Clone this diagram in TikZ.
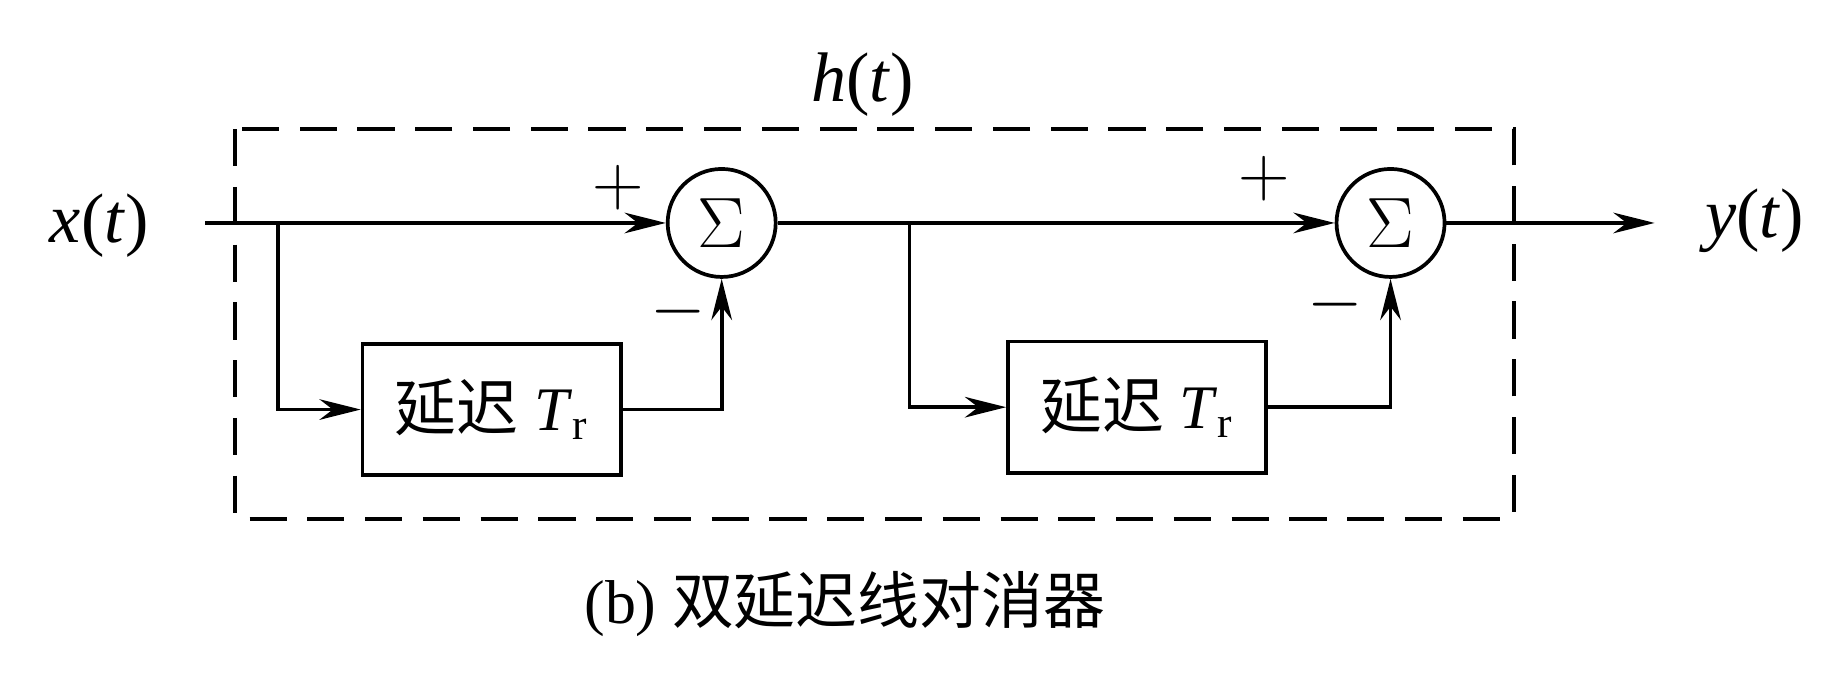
\documentclass[tikz,border=0pt]{standalone}
\usepackage{fontspec}
\setmainfont{Liberation Serif}
\newfontfamily\cjk{Noto Sans CJK SC}
\usetikzlibrary{arrows.meta}
\begin{document}
\begin{tikzpicture}[x=0.01cm,y=-0.01cm,
  line width=0.9pt,
  sig/.style={draw,circle,minimum size=0.92cm,inner sep=0pt,font=\fontsize{17}{17}\selectfont},
  dbox/.style={draw,minimum width=2.2cm,minimum height=1.12cm,font=\fontsize{15}{16}\selectfont},
  lbl/.style={font=\fontsize{17}{18}\selectfont},
  arr/.style={-{Stealth[length=10pt,width=5pt]}}]
\useasboundingbox (0,0) rectangle (1568,576);
\draw[dash pattern=on 9pt off 5pt,line width=1pt] (200,110) rectangle (1290,442);
\node[lbl] (h) at (735,72) {\textit{h}(\textit{t})};
\node[lbl,anchor=east] (x) at (140,192) {\textit{x}(\textit{t})};
\coordinate (xs) at (175,190);
\node[sig] (s1) at (615,190) {$\Sigma$};
\node[sig] (s2) at (1185,190) {$\Sigma$};
\node[dbox] (d1) at (419,349) {{\cjk 延迟} \textit{T}\textsubscript{r}};
\node[dbox] (d2) at (969,347) {{\cjk 延迟} \textit{T}\textsubscript{r}};
\node[lbl,anchor=west] (y) at (1440,188) {\textit{y}(\textit{t})};
\coordinate (o) at (1410,190);
\coordinate (b1) at (237,190);
\coordinate (b2) at (775,190);
\draw[arr] (xs) -- (s1);
\draw[arr] (b1) |- (d1);
\draw[arr] (d1.east) -| (s1.south);
\draw[arr] (s1.east) -- (s2.west);
\draw[arr] (b2) |- (d2);
\draw[arr] (d2.east) -| (s2.south);
\draw[arr] (s2) -- (o);
\node[lbl] (p1) at (527,160) {$+$};
\node[lbl] (m1) at (578,266) {$-$};
\node[lbl] (p2) at (1077,152) {$+$};
\node[lbl] (m2) at (1138,260) {$-$};
\node[font=\fontsize{15}{17}\selectfont] (cap) at (720,515) {(b) {\cjk 双延迟线对消器}};
\end{tikzpicture}
\end{document}
